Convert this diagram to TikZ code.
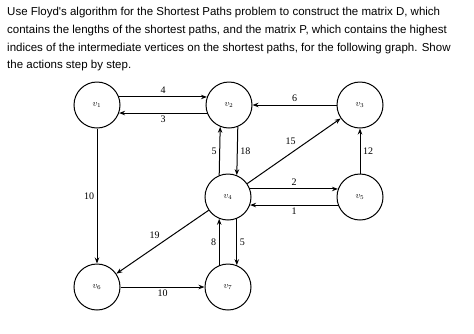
\documentclass[tikz,border=0pt]{standalone}
\usepackage{fontspec}
\setmainfont{Liberation Serif}
\newfontfamily\headfont{Liberation Sans}
\usetikzlibrary{arrows.meta}
\begin{document}
\begin{tikzpicture}[x=1pt,y=-1pt,
  vert/.style={circle,draw,line width=1pt,minimum size=46pt,inner sep=0pt,font=\small},
  edge/.style={line width=1pt,-{Stealth[length=6pt,width=4.5pt]}},
  lab/.style={font=\fontsize{10}{11}\selectfont,inner sep=2.5pt},
  head/.style={anchor=west,inner sep=0pt,font=\headfont\fontsize{11.5}{12}\selectfont}]
\useasboundingbox (0,0) rectangle (474,333);
\node[head] (t1) at (7,13) {Use Floyd's algorithm for the Shortest Paths problem to construct the matrix D, which};
\node[head] (t2) at (7,31) {contains the lengths of the shortest paths, and the matrix P, which contains the highest};
\node[head] (t3) at (7,49) {indices of the intermediate vertices on the shortest paths, for the following graph. Show};
\node[head] (t4) at (7,66) {the actions step by step.};

\node[vert] (v1) at (97,105) {$v_1$};
\node[vert] (v2) at (229,105) {$v_2$};
\node[vert] (v3) at (360,105) {$v_3$};
\node[vert] (v4) at (228,197) {$v_4$};
\node[vert] (v5) at (360,197) {$v_5$};
\node[vert] (v6) at (97,287) {$v_6$};
\node[vert] (v7) at (228,287) {$v_7$};

\draw[edge] (v1.20) -- node[lab,above] {4} (v2.160);
\draw[edge] (v2.-160) -- node[lab,below] {3} (v1.-20);
\draw[edge] (v3) -- node[lab,above] {6} (v2);
\draw[edge] (v4) -- node[lab,above left,pos=0.55] {15} (v3);
\draw[edge] (v5) -- node[lab,right] {12} (v3);
\draw[edge] (v2.-68) -- node[lab,right] {18} (v4.68);
\draw[edge] (v4.112) -- node[lab,left] {5} (v2.-112);
\draw[edge] (v4.20) -- node[lab,above] {2} (v5.160);
\draw[edge] (v5.-160) -- node[lab,below] {1} (v4.-20);
\draw[edge] (v1) -- node[lab,left] {10} (v6);
\draw[edge] (v4) -- node[lab,above left] {19} (v6);
\draw[edge] (v4.-68) -- node[lab,right] {5} (v7.68);
\draw[edge] (v7.112) -- node[lab,left] {8} (v4.-112);
\draw[edge] (v6) -- node[lab,below] {10} (v7);
\end{tikzpicture}
\end{document}
